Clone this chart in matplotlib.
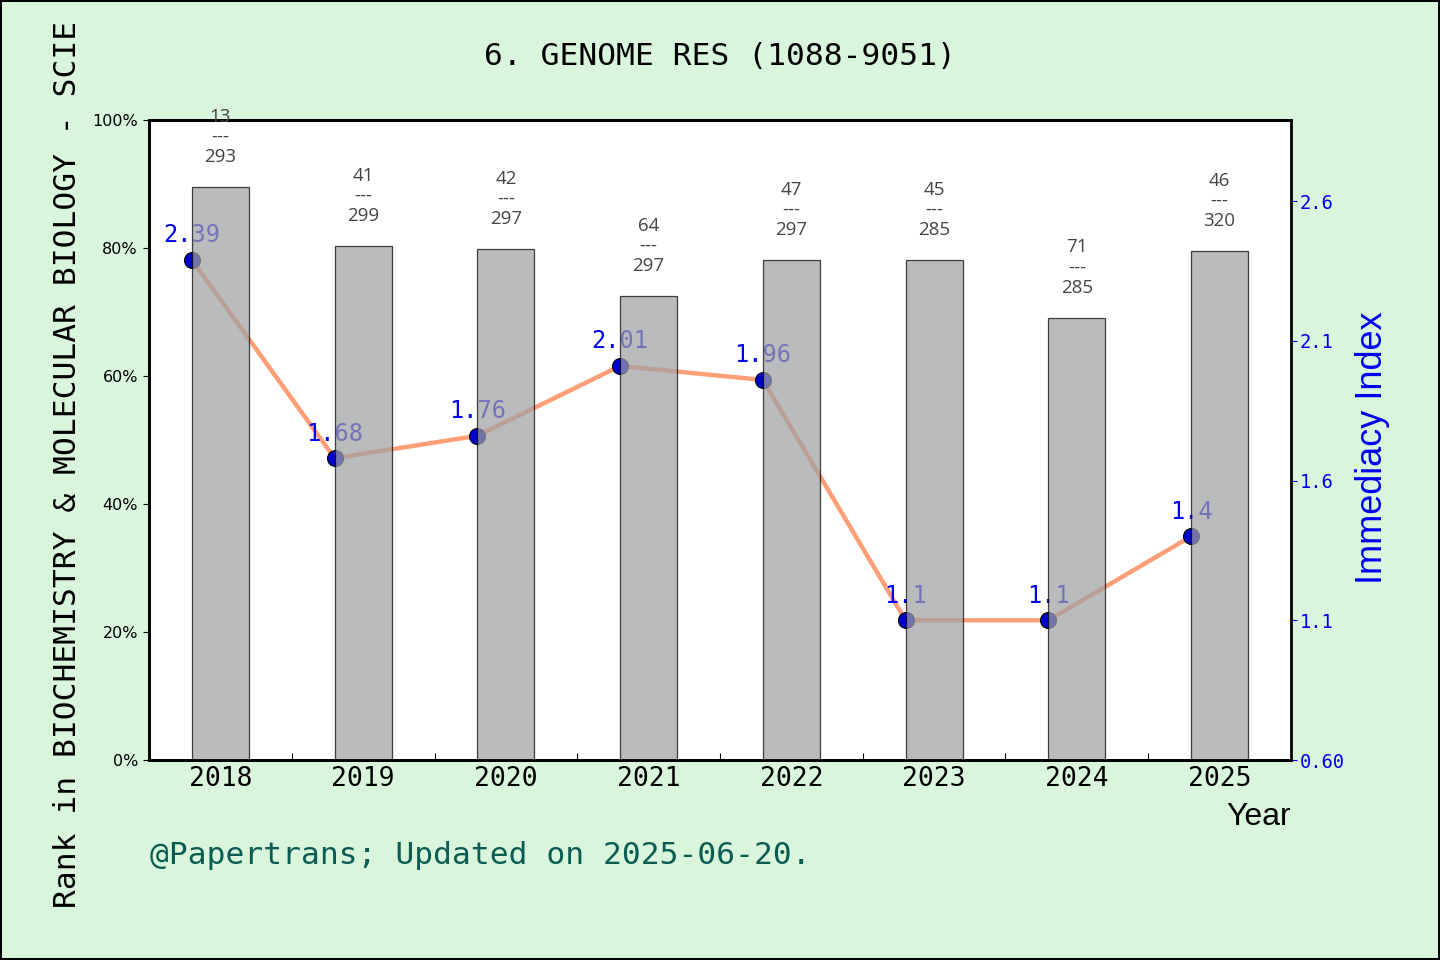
import numpy as np
import matplotlib
matplotlib.use("Agg")
import matplotlib.pyplot as plt

# data
years = ['2018', '2019', '2020', '2021', '2022', '2023', '2024', '2025']
rank_pct = [89.5, 80.3, 79.8, 72.5, 78.1, 78.1, 69.1, 79.5]
ranks = [13, 41, 42, 64, 47, 45, 71, 46]
totals = [293, 299, 297, 297, 297, 285, 285, 320]
imm_index = [2.39, 1.68, 1.76, 2.01, 1.96, 1.1, 1.1, 1.4]
right_ticks = [0.60, 1.1, 1.6, 2.1, 2.6]
right_ticklabels = ['0.60', '1.1', '1.6', '2.1', '2.6']
left_ticks = [0, 20, 40, 60, 80, 100]

mono = 'DejaVu Sans Mono'
bg = '#d9f6dd'

fig = plt.figure(figsize=(14.4, 9.6), dpi=100)
fig.patch.set_facecolor(bg)
fig.patch.set_edgecolor('black')
fig.patch.set_linewidth(1.5)

ax = fig.add_axes([0.1035, 0.2083, 0.793, 0.6667])
ax2 = ax.twinx()
# bars sit on top of the line, so raise the bar axes and hide its patch
ax.set_zorder(ax2.get_zorder() + 1)
ax.patch.set_visible(False)
ax2.patch.set_visible(True)
ax2.set_facecolor('white')

x = np.arange(len(years))

# line on the right axis
ax2.plot(x, imm_index, color='#ff9f78', lw=3.2, zorder=2)
ax2.plot(x, imm_index, 'o', ms=11.5, mfc='#0000cc', mec='black', mew=0.8, zorder=3)
for xi, v in zip(x, imm_index):
    ax2.annotate(f'{v:g}', (xi, v), xytext=(0, 9), textcoords='offset points',
                 ha='center', va='bottom', color='#0000ee', fontsize=17, family=mono)
ax2.set_ylim(0.6, 2.89)
ax2.set_yticks(right_ticks)
ax2.set_yticklabels(right_ticklabels, family=mono, fontsize=13.5, color='#0000ee')
ax2.tick_params(axis='y', colors='#0000ee', length=4, width=0.8, pad=2)
ax2.set_ylabel('Immediacy Index', color='#0000ee', fontsize=26, family='Liberation Sans')
ax2.yaxis.set_label_coords(1.056, 0.4875)

# bars on the left axis
bars = ax.bar(x + 0.2, rank_pct, width=0.4, color='#a0a1a3', alpha=0.72,
              edgecolor='black', linewidth=0.9)
for b, r, t in zip(bars, ranks, totals):
    ax.text(b.get_x() + b.get_width() / 2, b.get_height() + 3.3, f'{r}\n---\n{t}',
            ha='center', va='bottom', fontsize=13.5, color='#444444',
            family='Open Sans', linespacing=1.15)
ax.set_ylim(0, 100)
ax.set_xlim(-0.3, 7.7)
ax.set_yticks(left_ticks)
ax.set_yticklabels([f'{v}%' for v in left_ticks], fontsize=11.5)
ax.tick_params(axis='y', length=4, width=0.8, pad=4)

ax.set_xticks(x + 0.2)
ax.set_xticklabels(years, family=mono, fontsize=19)
ax.tick_params(axis='x', length=0, pad=4)
ax.set_xticks(np.arange(0.7, 7.5, 1.0), minor=True)
ax.tick_params(axis='x', which='minor', direction='in', length=5, width=0.8)

for a in (ax, ax2):
    for s in a.spines.values():
        s.set_linewidth(2)
ax.spines['right'].set_visible(False)

ax.set_ylabel('Rank in BIOCHEMISTRY & MOLECULAR BIOLOGY - SCIE', family=mono,
              fontsize=22.5)
ax.yaxis.set_label_coords(-0.0587, 0.4625)
ax.set_xlabel('Year', family='Liberation Sans', fontsize=23, ha='right')
ax.xaxis.set_label_coords(1.0, -0.065)

fig.text(0.5, 0.941, '6. GENOME RES (1088-9051)', ha='center', va='center',
         family=mono, fontsize=22.5)
fig.text(0.104, 0.109, '@Papertrans; Updated on 2025-06-20.', ha='left', va='center',
         family=mono, fontsize=22.5, color='#0a5c52')

fig.savefig('out.png', dpi=100, facecolor=fig.get_facecolor(), edgecolor=fig.get_edgecolor())
